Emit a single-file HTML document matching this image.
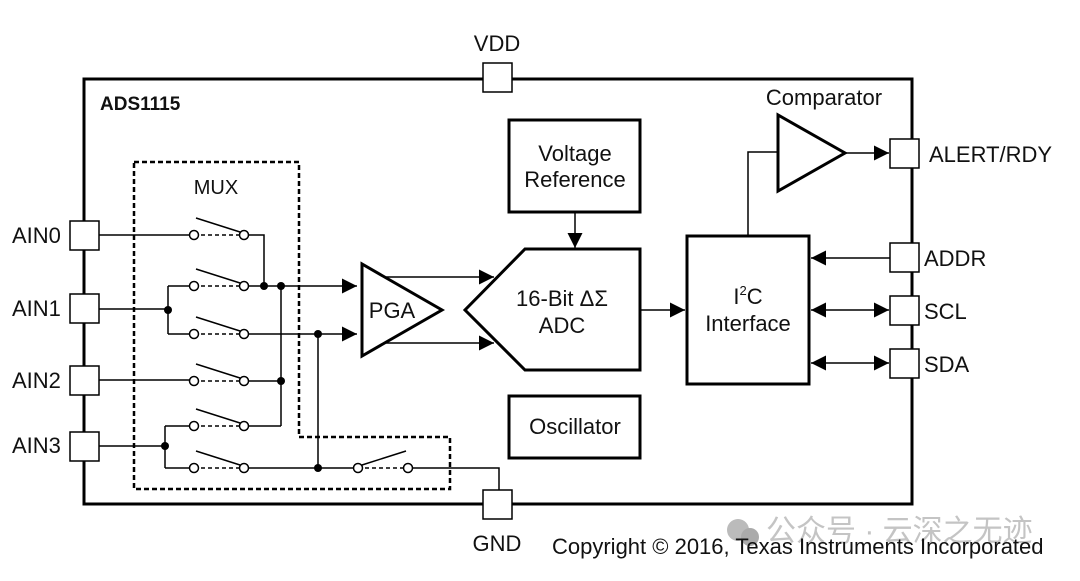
<!DOCTYPE html>
<html><head><meta charset="utf-8"><style>
html,body{margin:0;padding:0;background:#fff;}
svg{display:block;}
text{font-family:"Liberation Sans",Arial,sans-serif;fill:#111;}
</style></head><body>
<svg width="1080" height="581" viewBox="0 0 1080 581" xmlns="http://www.w3.org/2000/svg">
<defs>
<marker id="a" viewBox="0 0 10 10" refX="10" refY="5" markerWidth="15" markerHeight="15" markerUnits="userSpaceOnUse" orient="auto-start-reverse"><path d="M0,0 L10,5 L0,10 z" fill="#000"/></marker>
</defs>
<rect x="84" y="79" width="828" height="425" fill="none" stroke="#000" stroke-width="3"/>
<text x="100" y="110" font-size="19" font-weight="bold">ADS1115</text>
<g fill="#fff" stroke="#000" stroke-width="1.5">
<rect x="483" y="63" width="29" height="29"/>
<rect x="483" y="490" width="29" height="29"/>
<rect x="70" y="221" width="29" height="29"/>
<rect x="70" y="294" width="29" height="29"/>
<rect x="70" y="366" width="29" height="29"/>
<rect x="70" y="432" width="29" height="29"/>
<rect x="890" y="139" width="29" height="29"/>
<rect x="890" y="243" width="29" height="29"/>
<rect x="890" y="296" width="29" height="29"/>
<rect x="890" y="349" width="29" height="29"/>
</g>
<g font-size="22">
<text x="497" y="51" text-anchor="middle">VDD</text>
<text x="497" y="551" text-anchor="middle">GND</text>
<text x="12" y="243">AIN0</text>
<text x="12" y="316">AIN1</text>
<text x="12" y="388">AIN2</text>
<text x="12" y="453">AIN3</text>
<text x="929" y="162">ALERT/RDY</text>
<text x="924" y="266">ADDR</text>
<text x="924" y="319">SCL</text>
<text x="924" y="372">SDA</text>
<text x="824" y="105" text-anchor="middle">Comparator</text>
</g>
<polygon points="134,162 299,162 299,437 450,437 450,489 134,489" fill="none" stroke="#000" stroke-width="2.5" stroke-dasharray="5,3"/>
<text x="216" y="194" font-size="20" text-anchor="middle">MUX</text>
<g stroke="#000" stroke-width="1.5" fill="none">
<path d="M99,235 H190 M248,235 H264 V286"/>
<path d="M248,286 H357" marker-end="url(#a)"/>
<path d="M248,334 H357" marker-end="url(#a)"/>
<path d="M99,309 H168 M168,286 V334 M168,286 H190 M168,334 H190"/>
<path d="M281,286 V426 M248,381 H281 M248,426 H281"/>
<path d="M99,380 H190"/>
<path d="M99,446 H165 M165,426 V468 M165,426 H190 M165,468 H190"/>
<path d="M248,468 H354 M412,468 H499 V490"/>
<path d="M318,334 V468"/>
<g stroke-dasharray="4,3">
<path d="M194,235 H244 M194,286 H244 M194,334 H244 M194,381 H244 M194,426 H244 M194,468 H244 M358,468 H408"/>
</g>
<path d="M196,218 L240,232 M196,269 L240,283 M196,317 L240,331 M196,364 L240,378 M196,409 L240,423 M196,451 L240,465 M362,465 L406,451"/>
</g>
<g fill="#fff" stroke="#000" stroke-width="1.5">
<circle cx="194" cy="235" r="4.5"/><circle cx="244" cy="235" r="4.5"/>
<circle cx="194" cy="286" r="4.5"/><circle cx="244" cy="286" r="4.5"/>
<circle cx="194" cy="334" r="4.5"/><circle cx="244" cy="334" r="4.5"/>
<circle cx="194" cy="381" r="4.5"/><circle cx="244" cy="381" r="4.5"/>
<circle cx="194" cy="426" r="4.5"/><circle cx="244" cy="426" r="4.5"/>
<circle cx="194" cy="468" r="4.5"/><circle cx="244" cy="468" r="4.5"/>
<circle cx="358" cy="468" r="4.5"/><circle cx="408" cy="468" r="4.5"/>
</g>
<g fill="#000">
<circle cx="264" cy="286" r="4"/><circle cx="281" cy="286" r="4"/>
<circle cx="168" cy="310" r="4"/><circle cx="318" cy="334" r="4"/>
<circle cx="281" cy="381" r="4"/><circle cx="165" cy="446" r="4"/>
<circle cx="318" cy="468" r="4"/>
</g>
<polygon points="362,264 362,356 442,310" fill="#fff" stroke="#000" stroke-width="3"/>
<text x="392" y="318" font-size="22" text-anchor="middle">PGA</text>
<g stroke="#000" stroke-width="1.5" fill="none">
<path d="M386,277 H494" marker-end="url(#a)"/>
<path d="M386,343 H494" marker-end="url(#a)"/>
<path d="M575,212 V248" marker-end="url(#a)"/>
<path d="M640,310 H685" marker-end="url(#a)"/>
<path d="M748,236 V152 H778"/>
<path d="M845,153 H889" marker-end="url(#a)"/>
<path d="M890,258 H811" marker-end="url(#a)"/>
<path d="M811,310 H889" marker-start="url(#a)" marker-end="url(#a)"/>
<path d="M811,363 H889" marker-start="url(#a)" marker-end="url(#a)"/>
</g>
<polygon points="525,249 640,249 640,370 525,370 465,310" fill="#fff" stroke="#000" stroke-width="3"/>
<text x="562" y="306" font-size="22" text-anchor="middle">16-Bit ΔΣ</text>
<text x="562" y="333" font-size="22" text-anchor="middle">ADC</text>
<rect x="509" y="120" width="131" height="92" fill="#fff" stroke="#000" stroke-width="3"/>
<text x="575" y="161" font-size="22" text-anchor="middle">Voltage</text>
<text x="575" y="187" font-size="22" text-anchor="middle">Reference</text>
<rect x="509" y="396" width="131" height="62" fill="#fff" stroke="#000" stroke-width="3"/>
<text x="575" y="434" font-size="22" text-anchor="middle">Oscillator</text>
<rect x="687" y="236" width="122" height="148" fill="#fff" stroke="#000" stroke-width="3"/>
<text x="748" y="304" font-size="22" text-anchor="middle">I<tspan font-size="13" dy="-9">2</tspan><tspan dy="9">C</tspan></text>
<text x="748" y="331" font-size="22" text-anchor="middle">Interface</text>
<polygon points="778,115 778,191 845,153" fill="#fff" stroke="#000" stroke-width="3"/>
<circle cx="738" cy="530" r="11" fill="#bbb"/><circle cx="750" cy="537" r="9" fill="#aaa"/>
<text x="766" y="541" font-size="30" style="fill:#c4c4c4;font-family:'Liberation Sans','Noto Sans CJK SC',sans-serif">公众号 · 云深之无迹</text>
<text x="552" y="554" font-size="22">Copyright © 2016, Texas Instruments Incorporated</text>
</svg>
</body></html>
